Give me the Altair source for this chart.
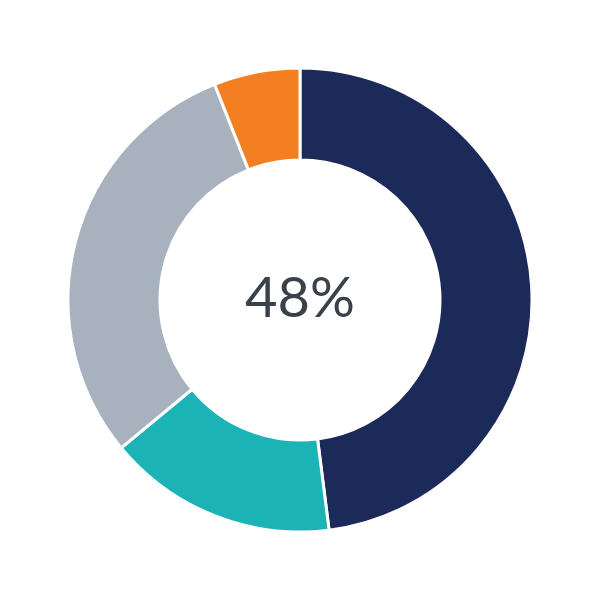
import altair as alt
import pandas as pd

categories = ["A", "B", "C", "D"]
values = [48, 16, 30, 6]
colors = ["#1c2a5a", "#1bb3b5", "#a8b2bf", "#f47f20"]
center_label = "48%"

df = pd.DataFrame({"cat": categories, "val": values, "order": list(range(len(values)))})

arc = alt.Chart(df).mark_arc(outerRadius=232, innerRadius=140, stroke="white", strokeWidth=3).encode(
    theta=alt.Theta("val:Q", stack=True),
    color=alt.Color("cat:N", scale=alt.Scale(domain=categories, range=colors), legend=None),
    order=alt.Order("order:Q"),
)

text = alt.Chart(pd.DataFrame({"t": [center_label]})).mark_text(
    fontSize=56, font="Lato", color="#3a4149", align="center", baseline="middle"
).encode(text="t:N", x=alt.value(292), y=alt.value(292))

chart = alt.layer(arc, text).properties(
    width=584, height=584, padding=0
).configure_view(stroke=None)

chart.save("out.html", embed_options={"renderer": "svg", "actions": False})
